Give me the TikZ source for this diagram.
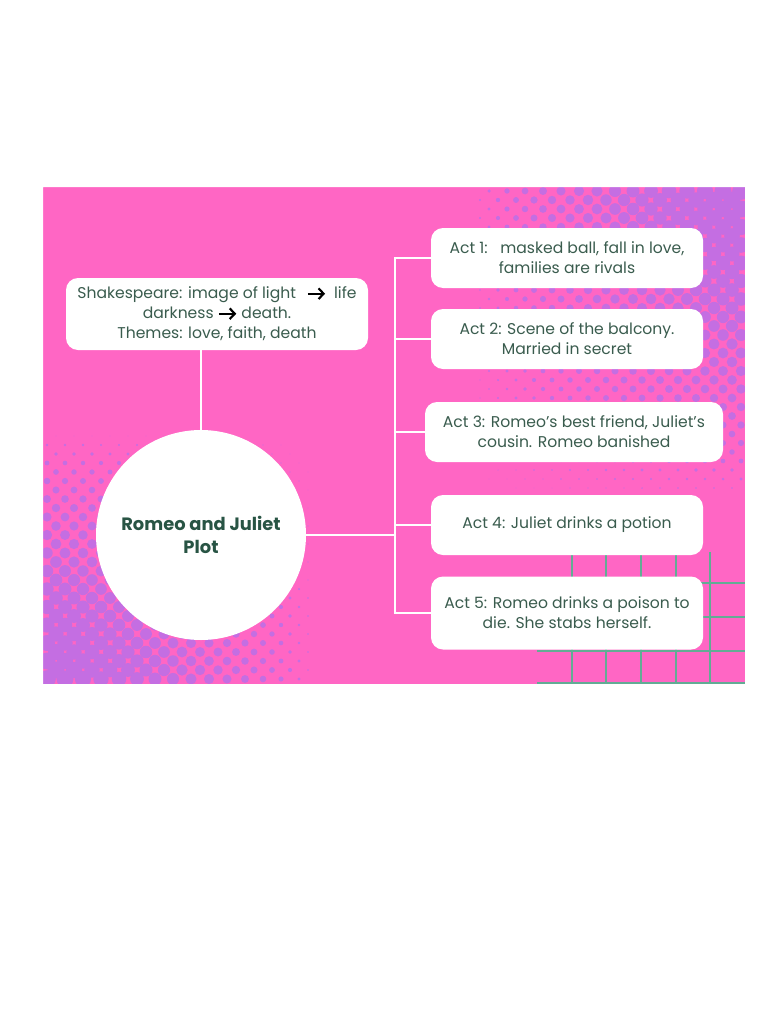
\documentclass[tikz,border=0pt]{standalone}
\usepackage{fontspec}
\setmainfont{Poppins}
\usetikzlibrary{arrows.meta,positioning}
\definecolor{panelpink}{RGB}{255,102,196}
\definecolor{dotlilac}{RGB}{196,110,226}
\definecolor{inkgreen}{RGB}{58,92,78}
\definecolor{titlegreen}{RGB}{40,84,68}
\definecolor{gridteal}{RGB}{98,172,148}
\newcommand{\thickarrow}{\tikz[baseline=-0.6ex]\draw[draw=black,line width=1.6pt,-{Straight Barb[length=3.8pt,width=8pt]}] (0pt,0pt) -- (13pt,0pt);}
\tikzset{
  actbox/.style={fill=white, rounded corners=9pt, minimum width=204pt, minimum height=45pt,
    align=center, text=inkgreen, inner sep=2pt, font=\fontsize{11.7}{15}\selectfont},
  shkbox/.style={actbox, minimum width=226.5pt, minimum height=54pt},
  plotcirc/.style={circle, fill=white, minimum size=157.5pt, inner sep=0pt, align=center,
    text=titlegreen, font=\fontsize{13.4}{17.5}\selectfont\bfseries},
  link/.style={draw=white, line width=2.2pt},
}
\begin{document}
\begin{tikzpicture}[x=0.75pt,y=-0.75pt]
  \useasboundingbox (0,0) rectangle (768,1024);
  \fill[panelpink] (43,187) rectangle (745,684);
  %% halftone dots
  \begin{scope}
    \clip (43,187) rectangle (745,684);
    \foreach \i in {0,...,30}{
      \foreach \j in {0,...,34}{
        \pgfmathtruncatemacro{\odd}{mod(\i+\j,2)}
        \ifnum\odd=0
          \pgfmathsetmacro{\fx}{max(0,1-9*\i/270)}
          \pgfmathsetmacro{\fy}{max(0,1-9*\j/305)}
          \pgfmathsetmacro{\rr}{8.8*(\fx*\fy)^0.6}
          \ifdim\rr pt>0.3pt
            \fill[dotlilac] (741-9*\i,191+9*\j) circle[radius=\rr];
          \fi
          \pgfmathsetmacro{\gx}{max(0,1-9*\i/268)}
          \pgfmathsetmacro{\gy}{max(0,1-9*\j/245)}
          \pgfmathsetmacro{\rs}{8.8*(\gx*\gy)^0.6}
          \ifdim\rs pt>0.3pt
            \fill[dotlilac] (47+9*\i,679-9*\j) circle[radius=\rs];
          \fi
        \fi
      }
    }
  \end{scope}
  %% page margin round the panel
  \fill[white, even odd rule] (0,0) rectangle (768,1024) (43,187) rectangle (745,684);
  %% grid
  \begin{scope}[gridteal, line width=1.5pt]
    \foreach \x in {571.5,606,641,676,710}
      \draw (\x,552) -- (\x,684);
    \foreach \y in {583,617,651,683}
      \draw (537,\y) -- (745,\y);
  \end{scope}

  \node[shkbox] (shk) at (217,314) {Shakespeare: image of light\hspace{8pt}\thickarrow\hspace{6pt}life\\
    darkness \thickarrow\ death.\\ Themes: love, faith, death};
  \node[plotcirc] (plot) at (201,535) {Romeo and Juliet\\Plot};
  \node[actbox] (act1) at (567,258) {Act 1:\ \ \ masked ball, fall in love,\\ families are rivals};
  \node[actbox] (act2) at (567,339) {Act 2: Scene of the balcony.\\ Married in secret};
  \node[actbox, minimum width=223.5pt] (act3) at (574,432) {Act 3: Romeo’s best friend, Juliet’s\\ cousin. Romeo banished};
  \node[actbox] (act4) at (567,525) {Act 4: Juliet drinks a potion};
  \node[actbox, minimum height=54.75pt] (act5) at (567,613) {Act 5: Romeo drinks a poison to\\ die. She stabs herself.};

  \coordinate (spine) at (395,535);
  \draw[link] (plot.north) -- (plot.north |- shk.south);
  \draw[link] (plot.east) -- (spine);
  \draw[link, line cap=rect] (spine |- act1.west) -- (spine |- act5.west);
  \foreach \a in {act1,act2,act3,act4,act5}
    \draw[link] (spine |- \a.west) -- (\a.west);
\end{tikzpicture}
\end{document}
